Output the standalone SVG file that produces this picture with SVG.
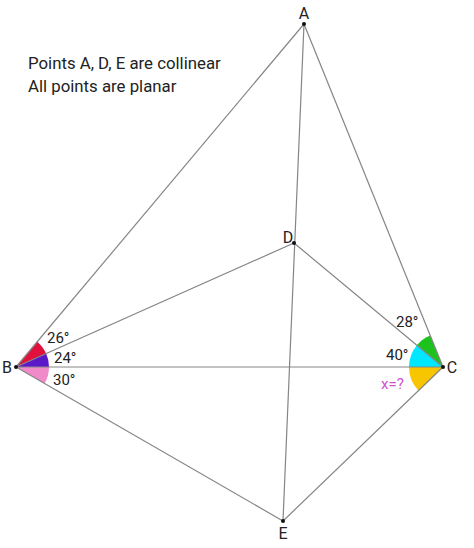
<svg xmlns="http://www.w3.org/2000/svg" width="474" height="548" viewBox="0 0 474 548">
<style>
.ln{stroke:#858585;stroke-width:1.2;fill:none}
.pt{fill:#111}
.lbl{font-family:Roboto,"Liberation Sans",sans-serif;font-size:16px;fill:#222}
.note{font-family:Roboto,"Liberation Sans",sans-serif;font-size:16.8px;fill:#222}
.ang{font-family:Roboto,"Liberation Sans",sans-serif;font-size:15px;fill:#222}
</style>
<rect width="474" height="548" fill="#fff"/>
<g id="wedges">
<path d="M16,367 L37.21,341.72 A33,33 0 0 1 46.15,353.58 Z" fill="#e2103c"/>
<path d="M16,367 L46.15,353.58 A33,33 0 0 1 49,367 Z" fill="#5a18c8"/>
<path d="M16,367 L49,367 A33,33 0 0 1 44.58,383.5 Z" fill="#f08ac8"/>
<path d="M443,367 L430.23,335.49 A34,34 0 0 0 416.86,345.25 Z" fill="#1ec21e"/>
<path d="M443,367 L416.86,345.25 A34,34 0 0 0 409,367 Z" fill="#00e8ff"/>
<path d="M443,367 L409,367 A34,34 0 0 0 418.51,390.58 Z" fill="#f7c600"/>
</g>
<g id="connectors">
<line class="ln" x1="304" y1="24" x2="16" y2="367"/>
<line class="ln" x1="304" y1="24" x2="443" y2="367"/>
<line class="ln" x1="304" y1="24" x2="283" y2="521"/>
<line class="ln" x1="16" y1="367" x2="443" y2="367"/>
<line class="ln" x1="16" y1="367" x2="294" y2="243"/>
<line class="ln" x1="294" y1="243" x2="443" y2="367"/>
<line class="ln" x1="16" y1="367" x2="283" y2="521"/>
<line class="ln" x1="443" y1="367" x2="283" y2="521"/>
</g>
<g id="A"><circle class="pt" cx="304" cy="24" r="2"/><text class="lbl" x="304" y="19" text-anchor="middle">A</text></g>
<g id="D"><circle class="pt" cx="294" cy="243" r="2"/><text class="lbl" x="288" y="243" text-anchor="middle">D</text></g>
<g id="B"><circle class="pt" cx="16" cy="367" r="2"/><text class="lbl" x="7" y="373" text-anchor="middle">B</text></g>
<g id="C"><circle class="pt" cx="443" cy="367" r="2"/><text class="lbl" x="452" y="373" text-anchor="middle">C</text></g>
<g id="E"><circle class="pt" cx="283" cy="521" r="2"/><text class="lbl" x="283" y="539" text-anchor="middle">E</text></g>
<g id="angles">
<text class="ang" x="47" y="343">26°</text>
<text class="ang" x="54" y="363">24°</text>
<text class="ang" x="53" y="385">30°</text>
<text class="ang" x="396" y="327">28°</text>
<text class="ang" x="386" y="360">40°</text>
<text class="ang" x="381" y="389" style="fill:#d050d0">x=?</text>
</g>
<g id="notes">
<text class="note" x="28" y="69">Points A, D, E are collinear</text>
<text class="note" x="28" y="92">All points are planar</text>
</g>
</svg>
